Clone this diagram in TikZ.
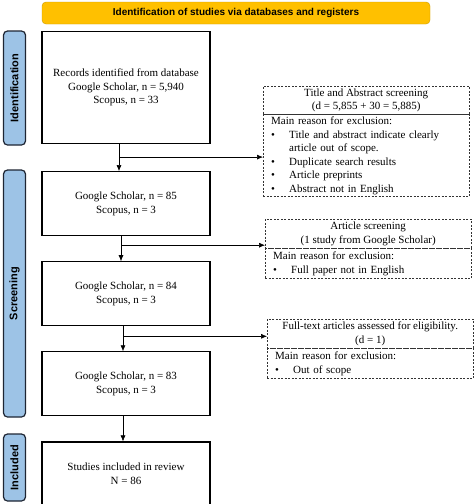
\documentclass[tikz,border=0pt]{standalone}
\usepackage{fontspec}
\setmainfont{Liberation Serif}
\setsansfont{Liberation Sans}
\usepackage{tikz}
\usetikzlibrary{arrows.meta, positioning, calc}

\definecolor{bannerfill}{HTML}{FFC000}
\definecolor{bannerline}{HTML}{C99A00}
\definecolor{phasefill}{HTML}{9DC3E6}
\definecolor{phaseline}{HTML}{1E2533}

\newcommand{\itm}[1]{\makebox[18pt][l]{\textbullet}#1}

\begin{document}
\begin{tikzpicture}[
  x=1pt, y=-1pt,
  >={Latex[length=6pt, width=5pt]},
  node distance=25pt,
  banner/.style={draw=bannerline, fill=bannerfill, rounded corners=4pt,
    minimum width=388pt, minimum height=22pt,
    font=\sffamily\bfseries\fontsize{10}{12}\selectfont},
  phase/.style={draw=phaseline, fill=phasefill, line width=1.2pt,
    rounded corners=4pt, minimum width=22pt, inner sep=0pt},
  phasetext/.style={rotate=90, font=\sffamily\bfseries\fontsize{11}{12}\selectfont},
  recbox/.style={draw, line width=1.1pt, minimum width=168pt,
    minimum height=64pt, align=center,
    font=\fontsize{11}{13.5}\selectfont},
  exhead/.style={draw=black!80, dash pattern=on 2pt off 1.5pt,
    minimum width=206pt, align=center, inner sep=2pt,
    font=\fontsize{11}{13.5}\selectfont},
  exbody/.style={draw=black!80, dash pattern=on 2pt off 1.5pt,
    minimum width=206pt, text width=190pt, align=left,
    inner xsep=8pt, inner ysep=2pt,
    font=\fontsize{11}{13.5}\selectfont},
  flow/.style={->, line width=0.6pt}
]
  \useasboundingbox (0,0) rectangle (474,504);

  % banner
  \node[banner] (banner) at (236,13) {Identification of studies via databases and registers};

  % phases on the left
  \node[phase, minimum height=114pt] (pid) at (14.5,88) {};
  \node[phasetext] at (pid) {Identification};
  \node[phase, minimum height=247pt] (pscr) at (14.5,293.5) {};
  \node[phasetext] at (pscr) {Screening};
  \node[phase, minimum height=67pt] (pinc) at (14.5,467.5) {};
  \node[phasetext] at (pinc) {Included};

  % main records
  \node[recbox, minimum height=112pt, anchor=north] (rec) at (126,31)
    {Records identified from database\\Google Scholar, n = 5,940\\Scopus, n = 33};
  \node[recbox, below=27pt of rec] (scr1) {Google Scholar, n = 85\\Scopus, n = 3};
  \node[recbox, below=of scr1] (scr2) {Google Scholar, n = 84\\Scopus, n = 3};
  \node[recbox, below=of scr2] (scr3) {Google Scholar, n = 83\\Scopus, n = 3};
  \node[recbox, below=of scr3] (incl) {Studies included in review\\N = 86};

  % exclusions
  \node[exhead, minimum height=28pt, anchor=north west] (exA) at (263,86)
    {Title and Abstract screening\\(d = 5,855 + 30 = 5,885)};
  \node[exbody, minimum height=82pt, below=0pt of exA] (exAb)
    {Main reason for exclusion:\\
     \itm{Title and abstract indicate clearly}\\
     \hspace*{18pt}article out of scope.\\
     \itm{Duplicate search results}\\
     \itm{Article preprints}\\
     \itm{Abstract not in English}};

  \node[exhead, minimum height=29pt, anchor=north west] (exB) at (265,219)
    {Article screening\\(1 study from Google Scholar)};
  \node[exbody, minimum height=30pt, below=0pt of exB] (exBb)
    {Main reason for exclusion:\\
     \itm{Full paper not in English}};

  \node[exhead, minimum height=29pt, anchor=north west] (exC) at (267,319)
    {Full-text articles assessed for eligibility.\\(d = 1)};
  \node[exbody, minimum height=30pt, below=0pt of exC] (exCb)
    {Main reason for exclusion:\\
     \itm{Out of scope}};

  % flow arrows
  \coordinate (b1) at ($(rec.south)+(-7,13)$);
  \coordinate (b2) at ($(scr1.south)+(-5,9)$);
  \coordinate (b3) at ($(scr2.south)+(-3,10)$);
  \draw[flow] ([xshift=-7pt]rec.south) -- ([xshift=-7pt]scr1.north);
  \draw[flow] ([xshift=-5pt]scr1.south) -- ([xshift=-5pt]scr2.north);
  \draw[flow] ([xshift=-3pt]scr2.south) -- ([xshift=-3pt]scr3.north);
  \draw[flow] ([xshift=-3pt]scr3.south) -- ([xshift=-3pt]incl.north);
  \draw[flow] (b1) -- (b1 -| exAb.west);
  \draw[flow] (b2) -- (b2 -| exB.west);
  \draw[flow] (b3) -- (b3 -| exC.west);
\end{tikzpicture}
\end{document}
